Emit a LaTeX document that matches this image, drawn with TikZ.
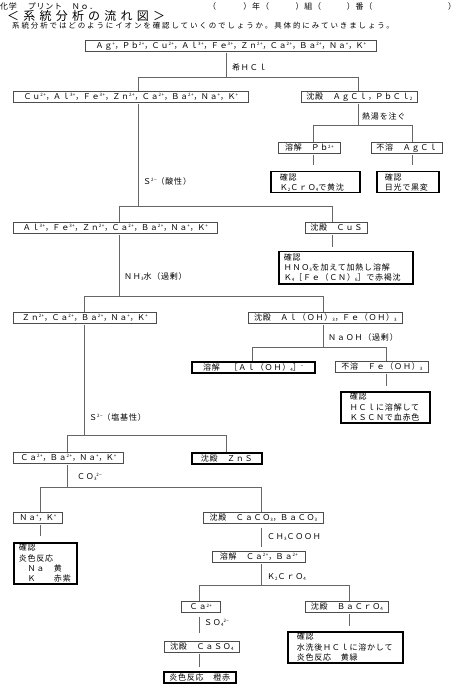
\documentclass[tikz,border=0pt]{standalone}
\usepackage{fontspec}
\usepackage{pdfrender}
\newfontfamily\cjk[LetterSpace=10]{Noto Sans CJK JP}
\newfontfamily\cjkw[LetterSpace=25]{Noto Sans CJK JP}
\newfontfamily\cjkt[LetterSpace=35]{Noto Sans CJK JP}
\newcommand\chup[1]{\raisebox{2.8pt}{\fontsize{4.5}{5}\selectfont #1}}
\newcommand\chdn[1]{\raisebox{-0.8pt}{\fontsize{4.5}{5}\selectfont #1}}
\newcommand\cmm{，\kern-0.7pt}
\newcommand\bxfont{\cjk\fontsize{8}{9}\selectfont}
\newcommand\ckfont{\cjk\fontsize{8}{10.3}\selectfont}
\begin{document}
\begin{tikzpicture}[x=1pt,y=-1pt,
  ln/.style={draw=black!60,line width=0.7pt},
  bx/.style={draw=black!70,line width=0.7pt,anchor=north west,minimum height=11pt,inner xsep=1pt,inner ysep=0pt,font=\bxfont},
  tk/.style={bx,draw=black,line width=1.5pt},
  ck/.style={draw=black,line width=1.5pt,anchor=north west,align=left,inner xsep=0pt,inner ysep=0.5pt,font=\ckfont},
  lb/.style={anchor=west,inner sep=0pt,font=\bxfont},
  hd/.style={anchor=west,inner sep=0pt,font=\bxfont},
  tt/.style={anchor=west,inner sep=0pt,font=\cjkt\fontsize{12}{14}\selectfont},
  st/.style={anchor=west,inner sep=0pt,font=\cjkw\fontsize{7.5}{9}\selectfont}]
\useasboundingbox (0,0) rectangle (474,684);
% header
\node[hd] (h1) at (0,6) {化学\hspace{2pt}　プリント　Ｎｏ．};
\node[hd] (h2) at (208,6) {（\hspace{27.2pt}）年（\hspace{26.6pt}）組（\hspace{25.6pt}）番（\hspace{75.6pt}）};
\node[tt] (title) at (7,16) {\textpdfrender{TextRenderingMode=1,LineWidth=0.35}{＜系統分析の流れ図＞}};
\node[st] (sub) at (12,26) {系統分析ではどのようにイオンを確認していくのでしょうか。具体的にみていきましょう。};
% level 1
\node[bx,minimum width=291pt] (b1) at (85,40) {Ａｇ\chup{+}\cmm Ｐｂ\chup{2+}\cmm Ｃｕ\chup{2+}\cmm Ａｌ\chup{3+}\cmm Ｆｅ\chup{3+}\cmm Ｚｎ\chup{2+}\cmm Ｃａ\chup{2+}\cmm Ｂａ\chup{2+}\cmm Ｎａ\chup{+}\cmm Ｋ\chup{+}};
\coordinate (j1) at (226,77); \coordinate (j1l) at (138,77); \coordinate (j1r) at (358,77);
\node[lb] (l1) at (232,67) {希ＨＣｌ};
\node[bx,minimum width=235pt] (b2) at (13,91) {Ｃｕ\chup{2+}\cmm Ａｌ\chup{3+}\cmm Ｆｅ\chup{3+}\cmm Ｚｎ\chup{2+}\cmm Ｃａ\chup{2+}\cmm Ｂａ\chup{2+}\cmm Ｎａ\chup{+}\cmm Ｋ\chup{+}};
\node[bx,minimum width=116pt] (b3) at (301,91) {沈殿　ＡｇＣｌ\cmm ＰｂＣｌ\chdn{2}};
\draw[ln,shorten <=1pt] (j1 |- b1.south) -- (j1);
\draw[ln] (j1l |- b2.north) -- (j1l) -- (j1r) -- (j1r |- b3.north);
% AgCl branch
\coordinate (j3) at (358,125); \coordinate (j3l) at (313,125); \coordinate (j3r) at (412,125);
\node[lb] (l3) at (362,116) {熱湯を注ぐ};
\node[bx,minimum width=62pt] (b4) at (278,142) {溶解　Ｐｂ\chup{2+}};
\node[bx,minimum width=71pt] (b5) at (371,142) {不溶　ＡｇＣｌ};
\draw[ln,shorten <=1pt] (j3 |- b3.south) -- (j3);
\draw[ln] (j3l |- b4.north) -- (j3l) -- (j3r) -- (j3r |- b5.north);
\node[ck,text width=89pt,minimum height=21pt] (c1) at (270,171) {\hspace*{9pt}確認\\\hspace*{9pt}Ｋ\chdn{2}ＣｒＯ\chdn{4}で黄沈};
\node[ck,text width=62pt,minimum height=21pt] (c2) at (376,171) {\hspace*{8pt}確認\\\hspace*{8pt}日光で黒変};
\draw[ln,shorten <=1pt,shorten >=6pt] (j3l |- b4.south) -- (j3l |- c1.north);
\draw[ln,shorten <=1pt,shorten >=6pt] (j3r |- b5.south) -- (j3r |- c2.north);
% S2- acidic
\coordinate (j2) at (138,206); \coordinate (j2l) at (119,206); \coordinate (j2r) at (332,206);
\node[lb] (l2) at (143,181) {Ｓ\chup{2−}（酸性）};
\draw[ln,shorten <=1pt] (j2 |- b2.south) -- (j2);
\node[bx,minimum width=204pt] (b6) at (13,222) {Ａｌ\chup{3+}\cmm Ｆｅ\chup{3+}\cmm Ｚｎ\chup{2+}\cmm Ｃａ\chup{2+}\cmm Ｂａ\chup{2+}\cmm Ｎａ\chup{+}\cmm Ｋ\chup{+}};
\node[bx,minimum width=62pt] (b7) at (305,222) {沈殿　ＣｕＳ};
\draw[ln] (j2l |- b6.north) -- (j2l) -- (j2r) -- (j2r |- b7.north);
\node[ck,text width=134pt,minimum height=32pt] (c3) at (278,251) {\hspace*{5pt}確認\\\hspace*{5pt}ＨＮＯ\chdn{3}を加えて加熱し溶解\\\hspace*{5pt}Ｋ\chdn{4}［Ｆｅ（ＣＮ）\chdn{6}］で赤褐沈};
\draw[ln,shorten <=1pt,shorten >=4pt] (j2r |- b7.south) -- (j2r |- c3.north);
% NH3
\coordinate (j4) at (119,296); \coordinate (j4l) at (84,296); \coordinate (j4r) at (323,296);
\node[lb] (l4) at (124,277) {ＮＨ\chdn{3}水（過剰）};
\draw[ln,shorten <=1pt] (j4 |- b6.south) -- (j4);
\node[bx,minimum width=143pt] (b8) at (13,312) {Ｚｎ\chup{2+}\cmm Ｃａ\chup{2+}\cmm Ｂａ\chup{2+}\cmm Ｎａ\chup{+}\cmm Ｋ\chup{+}};
\node[bx,minimum width=154pt] (b9) at (248,312) {沈殿　Ａｌ（ＯＨ）\chdn{3}\cmm Ｆｅ（ＯＨ）\chdn{3}};
\draw[ln] (j4l |- b8.north) -- (j4l) -- (j4r) -- (j4r |- b9.north);
% NaOH
\coordinate (j5) at (323,347); \coordinate (j5l) at (252,347); \coordinate (j5r) at (386,347);
\node[lb] (l5) at (328,337) {ＮａＯＨ（過剰）};
\draw[ln,shorten <=1pt] (j5 |- b9.south) -- (j5);
\node[tk,minimum width=123pt] (b10) at (191,361) {溶解　［Ａｌ（ＯＨ）\chdn{4}］\chup{−}};
\node[bx,minimum width=93pt] (b11) at (335,361) {不溶　Ｆｅ（ＯＨ）\chdn{3}};
\draw[ln] (j5l |- b10.north) -- (j5l) -- (j5r) -- (j5r |- b11.north);
\node[ck,text width=89pt,minimum height=31pt] (c4) at (340,391) {\hspace*{9pt}確認\\\hspace*{9pt}ＨＣｌに溶解して\\\hspace*{9pt}ＫＳＣＮで血赤色};
\draw[ln,shorten <=1pt,shorten >=5pt] (j5r |- b11.south) -- (j5r |- c4.north);
% S2- basic
\coordinate (j6) at (84,435); \coordinate (j6l) at (67,435); \coordinate (j6r) at (226,435);
\node[lb] (l6) at (89,417) {Ｓ\chup{2−}（塩基性）};
\draw[ln,shorten <=1pt] (j6 |- b8.south) -- (j6);
\node[bx,minimum width=110pt] (b12) at (13,452) {Ｃａ\chup{2+}\cmm Ｂａ\chup{2+}\cmm Ｎａ\chup{+}\cmm Ｋ\chup{+}};
\node[tk,minimum width=70pt] (b13) at (191,452) {沈殿　ＺｎＳ};
\draw[ln] (j6l |- b12.north) -- (j6l) -- (j6r) -- (j6r |- b13.north);
% CO3
\coordinate (j7) at (67,487); \coordinate (j7l) at (40,487); \coordinate (j7r) at (261,487);
\node[lb] (l7) at (77,477) {ＣＯ\chdn{3}\chup{2−}};
\draw[ln,shorten <=1pt] (j7 |- b12.south) -- (j7);
\node[bx,minimum width=49pt] (b14) at (13,512) {Ｎａ\chup{+}\cmm Ｋ\chup{+}};
\node[bx,minimum width=120pt] (b15) at (203,512) {沈殿　ＣａＣＯ\chdn{3}\cmm ＢａＣＯ\chdn{3}};
\draw[ln] (j7l |- b14.north) -- (j7l) -- (j7r) -- (j7r |- b15.north);
\node[ck,text width=63pt,minimum height=41pt] (c5) at (13,542) {\hspace*{5pt}確認\\\hspace*{5pt}炎色反応\\\hspace*{5pt}　Ｎａ　黄\\\hspace*{5pt}　Ｋ　　赤紫};
\draw[ln,shorten <=1pt,shorten >=6pt] (j7l |- b14.south) -- (j7l |- c5.north);
% CH3COOH
\node[lb] (l8) at (267,537) {ＣＨ\chdn{3}ＣＯＯＨ};
\node[bx,minimum width=93pt] (b16) at (212,551) {溶解　Ｃａ\chup{2+}\cmm Ｂａ\chup{2+}};
\draw[ln,shorten <=4pt,shorten >=4pt] (j7r |- b15.south) -- (j7r |- b16.north);
% K2CrO4
\coordinate (j9) at (261,585); \coordinate (j9l) at (199,585); \coordinate (j9r) at (349,585);
\node[lb] (l9) at (267,577) {Ｋ\chdn{2}ＣｒＯ\chdn{4}};
\draw[ln,shorten <=1pt] (j9 |- b16.south) -- (j9);
\node[bx,minimum width=39pt] (b17) at (181,601) {Ｃａ\chup{2+}};
\node[bx,minimum width=83pt] (b18) at (305,601) {沈殿　ＢａＣｒＯ\chdn{4}};
\draw[ln] (j9l |- b17.north) -- (j9l) -- (j9r) -- (j9r |- b18.north);
\node[lb] (l10) at (204,623) {ＳＯ\chdn{4}\chup{2−}};
\node[bx,minimum width=75pt] (b19) at (164,641) {沈殿　ＣａＳＯ\chdn{4}};
\draw[ln,shorten <=4pt,shorten >=8pt] (j9l |- b17.south) -- (j9l |- b19.north);
\node[tk,minimum width=72pt] (b20) at (163,671) {炎色反応　橙赤};
\draw[ln,shorten <=1pt,shorten >=4pt] (j9l |- b19.south) -- (j9l |- b20.north);
\node[ck,text width=115pt,minimum height=31pt] (c6) at (287,631) {\hspace*{9pt}確認\\\hspace*{9pt}水洗後ＨＣｌに溶かして\\\hspace*{9pt}炎色反応　黄緑};
\draw[ln,shorten <=1pt,shorten >=5pt] (j9r |- b18.south) -- (j9r |- c6.north);
\end{tikzpicture}
\end{document}
